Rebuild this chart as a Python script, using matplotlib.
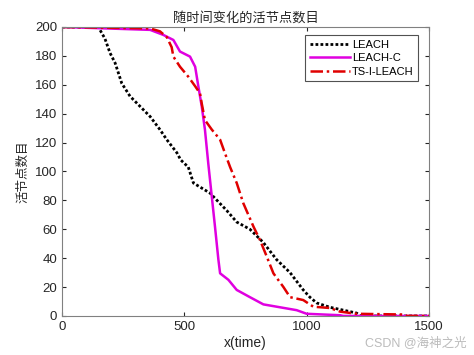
import matplotlib
matplotlib.use('Agg')
import matplotlib.pyplot as plt

# readings (time, alive nodes)
leach_t = [0, 148, 175, 196, 217, 244, 278, 319, 360, 400, 428, 469, 485, 516, 537, 605, 673, 714,
           768, 822, 877, 932, 986, 1013, 1041, 1095, 1150, 1204, 1220, 1500]
leach_n = [200, 200, 192, 182, 175, 161, 152, 145, 138, 129, 122, 113, 108, 103, 92, 85, 73, 65,
           60, 51, 39, 30, 18, 13, 9, 6, 4, 2, 0, 0]

leachc_t = [0, 360, 414, 455, 482, 523, 544, 557, 571, 584, 598, 625, 639, 646, 680, 714, 768,
            823, 891, 959, 1000, 1136, 1150, 1500]
leachc_n = [200, 198, 194.5, 191, 183, 179.5, 172.5, 159, 145, 129, 105, 62, 39, 29.5, 25, 18, 13,
            8, 6, 4, 1.5, 0.5, 0, 0]

ts_t = [0, 360, 400, 428, 448, 455, 482, 516, 544, 564, 571, 584, 612, 646, 666, 687, 714, 741,
        782, 809, 837, 864, 905, 932, 986, 1027, 1095, 1136, 1204, 1395, 1410, 1500]
ts_n = [200, 199, 197, 193, 186, 179.5, 172.5, 165.6, 159, 154, 147, 135.6, 129, 122, 112.6, 103, 92, 78,
        62, 52.6, 41, 29.5, 20, 13, 11, 6.4, 5.5, 3, 1.5, 1, 0, 0]

xticks = [0, 500, 1000, 1500]
yticks = [0, 20, 40, 60, 80, 100, 120, 140, 160, 180, 200]

plt.rcParams['font.family'] = ['Liberation Sans', 'Noto Sans CJK SC', 'DejaVu Sans']

fig = plt.figure(figsize=(4.74, 3.55), dpi=100)
ax = fig.add_axes([0.131, 0.110, 0.774, 0.814])

ax.plot(leach_t, leach_n, color='black', linestyle=(0, (1, 0.8)), linewidth=2, label='LEACH')
ax.plot(leachc_t, leachc_n, color='#e000e0', linestyle='-', linewidth=1.8, label='LEACH-C')
ax.plot(ts_t, ts_n, color='#e00000', linestyle=(0, (5, 1.5, 1, 1.5)), linewidth=1.8, label='TS-I-LEACH')

ax.set_xlim(0, 1500)
ax.set_ylim(0, 200)
ax.set_xticks(xticks)
ax.set_yticks(yticks)
ax.tick_params(direction='in', top=True, right=True, labelsize=9.5, colors='#262626', length=3)
for s in ax.spines.values():
    s.set_color('#808080')
    s.set_linewidth(0.8)

ax.set_title('随时间变化的活节点数目', fontsize=9.5, family=['Noto Sans CJK SC'], color='#262626', pad=4)
ax.set_ylabel('活节点数目', fontsize=9, family=['Noto Sans CJK SC'], color='#262626', labelpad=4)
ax.set_xlabel('x(time)', fontsize=10, color='#262626', labelpad=2)

leg = ax.legend(loc='upper right', fontsize=8, frameon=True, fancybox=False, edgecolor='#262626',
                handlelength=3.6, handletextpad=0.2, borderpad=0.4, labelspacing=0.3,
                bbox_to_anchor=(0.985, 0.99))
leg.get_frame().set_linewidth(0.8)

fig.text(0.985, 0.018, 'CSDN @海神之光', ha='right', va='bottom', fontsize=9, color='#bbbbbb',
         family=['Liberation Sans', 'Noto Sans CJK SC'])

fig.savefig('out.png', dpi=100)
